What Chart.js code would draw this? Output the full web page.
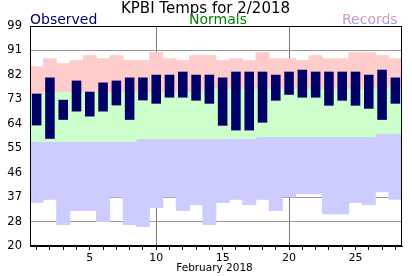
<!DOCTYPE html>
<html>
<head>
<meta charset="utf-8">
<script src="https://cdn.jsdelivr.net/npm/chart.js@4/dist/chart.umd.min.js"></script>
<style>
html,body{margin:0;padding:0;background:#fff;}
#wrap{width:412px;height:276px;position:relative;}
</style>
</head>
<body>
<div id="wrap"><canvas id="c" width="412" height="276"></canvas></div>
<script>
const days = ['1','2','3','4','5','6','7','8','9','10','11','12','13','14','15','16','17','18','19','20','21','22','23','24','25','26','27','28'];
const yTickLabels = ['20','28','37','46','55','64','73','82','91','99'];
const xLabelDays = ['5','10','15','20','25'];
const markedDays = ['10','20'];

const recordHigh = [84.4,87.3,85.5,86.6,88.4,87.3,88.4,86.6,86.6,89.5,87.3,86.6,88.4,88.4,86.6,87.3,86.6,89.5,87.3,87.3,86.6,88.4,87.3,87.3,89.5,89.5,88.4,87.3];
const normalHigh = [74.7,75.4,75.4,75.4,75.4,75.4,75.4,75.4,75.4,75.4,75.4,75.4,75.4,76.5,76.5,76.5,76.5,76.5,76.5,76.5,76.5,76.5,76.5,76.5,76.5,76.5,76.5,77.6];
const normalLow  = [57.5,57.5,57.5,57.5,57.5,57.5,57.5,57.5,58.5,58.5,58.5,58.5,58.5,58.5,58.5,58.5,58.5,59.2,59.2,59.2,59.2,59.2,59.2,59.2,59.2,59.2,60.3,60.3];
const recordLow  = [35.6,36.7,27.7,32.7,32.7,28.7,37.6,27.7,26.9,33.8,37.6,32.7,34.8,27.7,35.6,36.7,34.8,36.7,32.7,37.6,38.7,38.7,31.5,31.5,35.6,34.8,39.4,36.7];
const obsHigh = [74.7,80.5,72.5,79.4,75.4,78.7,79.4,80.5,80.5,81.5,81.5,82.6,81.5,81.5,80.5,82.6,82.6,82.6,81.5,82.6,83.3,82.6,82.6,82.6,82.6,81.5,83.3,80.5];
const obsLow  = [63.3,58.5,65.3,68.3,66.5,68.3,70.5,65.3,72.3,71.1,73.3,73.3,72.2,71.1,63.2,61.5,61.5,64.3,72.2,74.3,73.3,73.3,70.4,72.2,70.4,69.3,65.3,71.1];

const Y_MIN = 20, Y_MAX = 99;
const FONT = 'DejaVu Sans';

function pairs(lo, hi){ return lo.map((v,i)=>[v, hi[i]]); }

const textPlugin = {
  id: 'texts',
  beforeDraw(chart){
    const ctx = chart.ctx;
    ctx.save();
    ctx.fillStyle = '#fff';
    ctx.fillRect(0,0,chart.width,chart.height);
    ctx.restore();
  },
  afterDraw(chart){
    const ctx = chart.ctx;
    const a = chart.chartArea;
    ctx.save();
    // frame
    ctx.strokeStyle = '#000';
    ctx.lineWidth = 1;
    ctx.setLineDash([]);
    ctx.strokeRect(Math.round(a.left)+0.5, Math.round(a.top)+0.5, Math.round(a.right-a.left)-1, Math.round(a.bottom-a.top)-1);
    // title
    ctx.textBaseline = 'alphabetic';
    ctx.fillStyle = '#000';
    ctx.font = '15px "' + FONT + '"';
    ctx.textAlign = 'center';
    ctx.fillText('KPBI Temps for 2/2018', 205.5, 13);
    // legend texts
    ctx.font = '14px "' + FONT + '"';
    ctx.textAlign = 'left';
    ctx.fillStyle = '#000066';
    ctx.fillText('Observed', 30, 24);
    ctx.fillStyle = '#008000';
    ctx.fillText('Normals', 189, 24);
    const g = ctx.createLinearGradient(0, 13, 0, 24);
    g.addColorStop(0, '#ff9999');
    g.addColorStop(1, '#9999ff');
    ctx.fillStyle = g;
    ctx.fillText('Records', 342, 24);
    // x axis title
    ctx.fillStyle = '#000';
    ctx.font = '10.5px "' + FONT + '"';
    ctx.textAlign = 'center';
    ctx.fillText('February 2018', 214.5, 271);
    ctx.restore();
  }
};

new Chart(document.getElementById('c'), {
  type: 'bar',
  data: {
    labels: days,
    datasets: [
      { label: 'Observed', data: pairs(obsLow, obsHigh), backgroundColor: '#000066', barPercentage: 0.72, categoryPercentage: 1, borderWidth: 0 },
      { label: 'Record high', data: pairs(normalHigh, recordHigh), backgroundColor: '#ffcccc', barPercentage: 1, categoryPercentage: 1, borderWidth: 0 },
      { label: 'Normals', data: pairs(normalLow, normalHigh), backgroundColor: '#ccffcc', barPercentage: 1, categoryPercentage: 1, borderWidth: 0 },
      { label: 'Record low', data: pairs(recordLow, normalLow), backgroundColor: '#ccccff', barPercentage: 1, categoryPercentage: 1, borderWidth: 0 }
    ]
  },
  options: {
    responsive: false,
    animation: false,
    devicePixelRatio: 1,
    layout: { padding: { top: 26, right: 10, left: 0, bottom: 0 } },
    datasets: { bar: { grouped: false } },
    plugins: { legend: { display: false }, tooltip: { enabled: false }, title: { display: false } },
    scales: {
      x: {
        type: 'category',
        offset: true,
        z: 1,
        afterFit(s){ s.height = 30; },
        grid: {
          offset: false,
          drawTicks: true,
          tickLength: 4,
          tickColor: '#000',
          tickBorderDash: [],
          color: (c) => (c.tick && markedDays.includes(days[c.index])) ? '#777777' : 'rgba(0,0,0,0)',
          borderDash: [1,2],
          lineWidth: 1
        },
        border: { display: true, color: '#000', width: 1 },
        ticks: {
          autoSkip: false,
          maxRotation: 0,
          padding: 2,
          color: '#000',
          font: { family: FONT, size: 11 },
          callback: (v, i) => xLabelDays.includes(days[i]) ? days[i] : ''
        }
      },
      y: {
        min: Y_MIN,
        max: Y_MAX,
        z: 1,
        afterFit(s){ s.width = 30; },
        afterBuildTicks(s){
          s.ticks = yTickLabels.map((t,i) => ({ value: Y_MIN + i * (Y_MAX - Y_MIN) / (yTickLabels.length - 1) }));
        },
        grid: { drawTicks: false, color: '#999999', borderDash: [4,2], lineWidth: 1 },
        border: { display: true, color: '#000', width: 1 },
        ticks: {
          padding: 8,
          color: '#000',
          font: { family: FONT, size: 11.5 },
          callback: (v, i) => yTickLabels[i]
        }
      }
    }
  },
  plugins: [textPlugin]
});
</script>
</body>
</html>
